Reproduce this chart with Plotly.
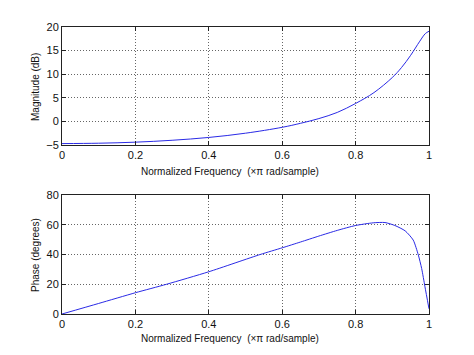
import plotly.graph_objects as go

freq = [0.0, 0.1, 0.2, 0.3, 0.4, 0.5, 0.6, 0.65, 0.7, 0.75, 0.8, 0.85, 0.9, 0.925, 0.95, 0.975, 0.99, 1.0]
mag_db = [-4.7, -4.62, -4.4, -4.0, -3.4, -2.5, -1.25, -0.4, 0.6, 1.9, 3.8, 6.1, 9.3, 11.4, 14.0, 17.0, 18.6, 19.1]

pfreq = [0.0, 0.1, 0.2, 0.285, 0.4, 0.54, 0.6, 0.65, 0.7, 0.75, 0.8, 0.848, 0.88, 0.907, 0.935, 0.957, 0.971, 0.98, 0.989, 1.0]
phase_deg = [0.0, 7.1, 14.3, 20.0, 28.4, 40.0, 44.5, 48.4, 52.4, 56.2, 59.5, 61.3, 61.5, 59.5, 55.9, 49.7, 39.6, 30.6, 18.3, 3.5]

xticks = [0, 0.2, 0.4, 0.6, 0.8, 1]
xticklabels = ["0", "0.2", "0.4", "0.6", "0.8", "1"]
mag_ticks = [-5, 0, 5, 10, 15, 20]
phase_ticks = [0, 20, 40, 60, 80]

xlabel = "Normalized Frequency  (\u00d7\u03c0 rad/sample)"

# page body has an 8px default margin; work in figure coordinates
OFF = 8
W, H = 474 - OFF, 355 - OFF
L, R = 62 - OFF, 429 - OFF

def py(px):
    return 1 - (px - OFF) / H

def pxr(px):
    return (px - OFF - L) / (R - L)

font = "Liberation Sans, Arial, Helvetica, sans-serif"
line_color = "#2a2ae6"

fig = go.Figure()
fig.add_trace(go.Scatter(x=freq, y=mag_db, mode="lines", line=dict(color=line_color, width=1, shape="spline", smoothing=1.0), xaxis="x", yaxis="y", showlegend=False))
fig.add_trace(go.Scatter(x=pfreq, y=phase_deg, mode="lines", line=dict(color=line_color, width=1, shape="spline", smoothing=0.6), xaxis="x2", yaxis="y2", showlegend=False))

ax_common = dict(
    showline=True, linecolor="#222", linewidth=1, mirror="ticks",
    ticks="inside", ticklen=4, tickcolor="#222",
    showgrid=True, gridcolor="#666", griddash="1px,2px", gridwidth=1,
    zeroline=False, automargin=False, tickfont=dict(family=font, size=11, color="#111"),
)

fig.update_layout(
    width=W, height=H,
    margin=dict(l=L, r=W - R, t=0, b=0),
    paper_bgcolor="white", plot_bgcolor="white",
    xaxis=dict(domain=[0, 1], range=[0, 1], tickvals=xticks, ticktext=xticklabels, anchor="y", **ax_common),
    yaxis=dict(domain=[py(145), py(27)], range=[-5, 20], tickvals=mag_ticks, anchor="x", **ax_common),
    xaxis2=dict(domain=[0, 1], range=[0, 1], tickvals=xticks, ticktext=xticklabels, anchor="y2", **ax_common),
    yaxis2=dict(domain=[py(314), py(195)], range=[0, 80], tickvals=phase_ticks, anchor="x2", **ax_common),
    annotations=[
        dict(text=xlabel, x=pxr(230), y=py(171), xref="paper", yref="paper", showarrow=False, xanchor="center", yanchor="middle", font=dict(family=font, size=10, color="#111")),
        dict(text=xlabel, x=pxr(230), y=py(338), xref="paper", yref="paper", showarrow=False, xanchor="center", yanchor="middle", font=dict(family=font, size=10, color="#111")),
        dict(text="Magnitude (dB)", x=pxr(35), y=py(87), xref="paper", yref="paper", showarrow=False, textangle=-90, xanchor="center", yanchor="middle", font=dict(family=font, size=10, color="#111")),
        dict(text="Phase (degrees)", x=pxr(35), y=py(255), xref="paper", yref="paper", showarrow=False, textangle=-90, xanchor="center", yanchor="middle", font=dict(family=font, size=10, color="#111")),
    ],
)

fig.write_html("out.html")
